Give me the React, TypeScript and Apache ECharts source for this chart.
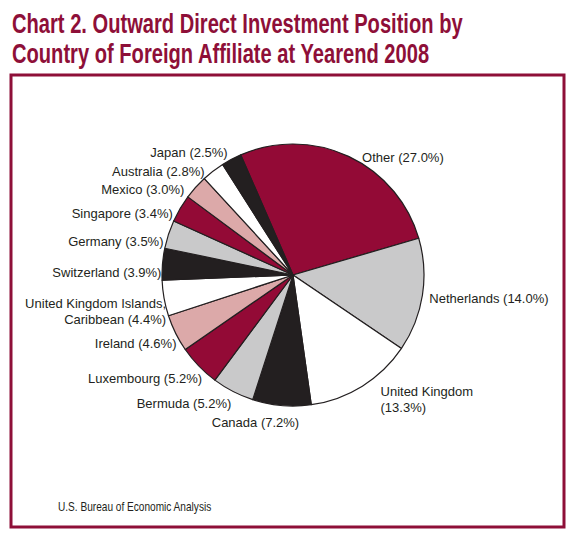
import React, { useEffect, useRef } from "react";
import * as echarts from "echarts";

const categories = [
  "Other",
  "Netherlands",
  "United Kingdom",
  "Canada",
  "Bermuda",
  "Luxembourg",
  "Ireland",
  "United Kingdom Islands,\nCaribbean",
  "Switzerland",
  "Germany",
  "Singapore",
  "Mexico",
  "Australia",
  "Japan",
];
const shares = [27.0, 14.0, 13.3, 7.2, 5.2, 5.2, 4.6, 4.4, 3.9, 3.5, 3.4, 3.0, 2.8, 2.5];
const titleLines = [
  "Chart 2. Outward Direct Investment Position by",
  "Country of Foreign Affiliate at Yearend 2008",
];
const sourceNote = "U.S. Bureau of Economic Analysis";

const MAROON = "#930A36";
const GRAY = "#C9C9CA";
const BLACK = "#231F20";
const WHITE = "#FFFFFF";
const PINK = "#DCA9A9";
const TITLE_RED = "#8E0F38";
const palette = [MAROON, GRAY, WHITE, BLACK, GRAY, MAROON, PINK, WHITE, BLACK, GRAY, MAROON, PINK, WHITE, BLACK];

const SANS = '"Liberation Sans", Arial, Helvetica, sans-serif';

function measure(text: string, font: string): number {
  const c = document.createElement("canvas").getContext("2d");
  if (!c) return text.length * 10;
  c.font = font;
  return c.measureText(text).width;
}

export default function App() {
  const ref = useRef<HTMLDivElement>(null);
  useEffect(() => {
    document.body.style.margin = "0";
    if (!ref.current) return;
    const chart = echarts.init(ref.current, undefined, { renderer: "svg" });
    const titleFont = `bold 28px ${SANS}`;
    const titleScale = 451 / measure(titleLines[0], titleFont);
    const noteFont = `12px ${SANS}`;
    const noteScale = 154 / measure(sourceNote, noteFont);
    // small label nudges (layout only) to follow the reference's label placement
    const labelNudge: number[][] = [
      [7, 7], [-3, 2], [11, 8], [22, 8], [7, 7], [10, 8], [7, 8],
      [8, 12], [5, 9], [1, 9], [0, 5], [0, -1], [4, -1], [3, -2],
    ];
    chart.setOption({
      animation: false,
      backgroundColor: "#FFFFFF",
      graphic: [
        {
          type: "text",
          x: 12,
          y: 23,
          scaleX: titleScale,
          style: { text: titleLines[0], fill: TITLE_RED, font: titleFont, verticalAlign: "middle" },
        },
        {
          type: "text",
          x: 12,
          y: 53,
          scaleX: titleScale,
          style: { text: titleLines[1], fill: TITLE_RED, font: titleFont, verticalAlign: "middle" },
        },
        {
          type: "rect",
          shape: { x: 11, y: 75, width: 553, height: 452 },
          style: { fill: "none", stroke: TITLE_RED, lineWidth: 3 },
        },
        {
          type: "text",
          x: 58,
          y: 507,
          scaleX: noteScale,
          style: { text: sourceNote, fill: BLACK, font: noteFont, verticalAlign: "middle" },
        },
      ],
      series: [
        {
          type: "pie",
          center: [293, 275],
          radius: 131,
          startAngle: 113.5,
          clockwise: true,
          avoidLabelOverlap: true,
          itemStyle: { borderColor: BLACK, borderWidth: 1.2 },
          label: {
            show: true,
            position: "outside",
            color: BLACK,
            fontFamily: SANS,
            fontSize: 13,
            lineHeight: 16,
            overflow: "none",
            distanceToLabelLine: 4,
            formatter: (p: any) =>
              p.name === "United Kingdom"
                ? `${p.name}\n(${p.value.toFixed(1)}%)`
                : `${p.name} (${p.value.toFixed(1)}%)`,
          },
          labelLine: { show: false, length: 6, length2: 0 },
          labelLayout: (p: any) => {
            const o = labelNudge[p.dataIndex] || [0, 0];
            return { dx: o[0], dy: o[1] };
          },
          emphasis: { disabled: true },
          data: categories.map((name, i) => ({
            name,
            value: shares[i],
            itemStyle: { color: palette[i] },
          })),
        },
      ],
    });
    return () => chart.dispose();
  }, []);
  return <div ref={ref} style={{ width: 576, height: 538 }} />;
}
